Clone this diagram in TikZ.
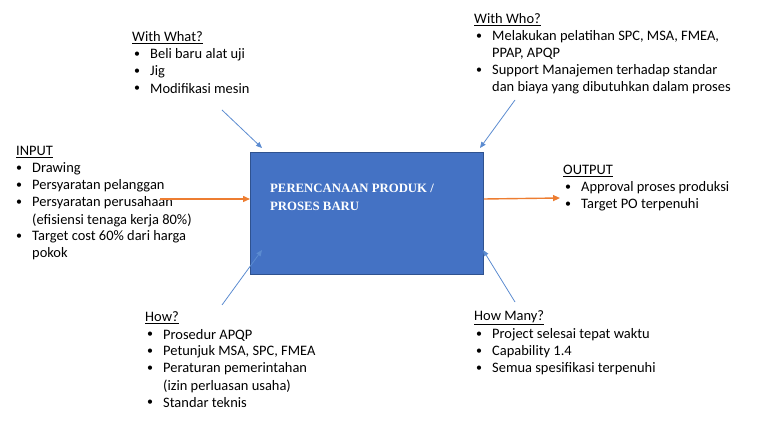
\documentclass[tikz,border=0pt]{standalone}
\usepackage{fontspec}
\setmainfont{Carlito}
\newfontfamily\titlefont{Liberation Serif}
\usetikzlibrary{arrows.meta}
\definecolor{boxblue}{HTML}{4472C4}
\definecolor{boxedge}{HTML}{2F528F}
\definecolor{arrblue}{HTML}{5B8BD0}
\definecolor{arrorange}{HTML}{ED7D31}
\tikzset{
  txt/.style={anchor=west,inner sep=0pt,font=\fontsize{14.5}{16}\selectfont},
  head/.style={txt},
  bl/.style={anchor=west,inner sep=0pt,font=\fontsize{12}{14}\selectfont},
  blu/.style={draw=arrblue,line width=0.8pt,-{Triangle[length=6pt,width=5pt]}},
  org/.style={draw=arrorange,line width=1.4pt,-{Triangle[length=7pt,width=6pt]}}
}
% bullet line: #1 x, #2 y, #3 text
\newcommand{\bitem}[3]{\node[bl] at (#1,#2) {\textbullet};\node[txt] at (#1+16,#2) {#3};}
\newcommand{\contline}[3]{\node[txt] at (#1+16,#2) {#3};}
\begin{document}
\begin{tikzpicture}[x=1bp,y=-1bp]
\useasboundingbox (0,0) rectangle (768,433);
\node[draw=boxedge,fill=boxblue,line width=0.8pt,minimum width=233bp,minimum height=122bp,inner sep=0pt,anchor=north west] (box) at (250,152) {};
\node[anchor=west,inner sep=0pt,text=white,font=\titlefont\bfseries\fontsize{12.8}{14}\selectfont] (t1) at (270,188) {PERENCANAAN PRODUK /};
\node[anchor=west,inner sep=0pt,text=white,font=\titlefont\bfseries\fontsize{12.8}{14}\selectfont] (t2) at (270,206) {PROSES BARU};

% With What?
\node[head] (ww) at (132,38) {\underline{With What?}};
\bitem{134}{55}{Beli baru alat uji}
\bitem{134}{72}{Jig}
\bitem{134}{89}{Modifikasi mesin}
% With Who?
\node[head] (wo) at (474,20) {\underline{With Who?}};
\bitem{476}{37}{Melakukan pelatihan SPC, MSA, FMEA,}
\contline{476}{54}{PPAP, APQP}
\bitem{476}{71}{Support Manajemen terhadap standar}
\contline{476}{88}{dan biaya yang dibutuhkan dalam proses}
% INPUT
\node[head] (in) at (16,152) {\underline{INPUT}};
\bitem{16}{169}{Drawing}
\bitem{16}{186}{Persyaratan pelanggan}
\bitem{16}{203}{Persyaratan perusahaan}
\contline{16}{220}{(efisiensi tenaga kerja 80\%)}
\bitem{16}{237}{Target cost 60\% dari harga}
\contline{16}{254}{pokok}
% OUTPUT
\node[head] (out) at (563,171) {\underline{OUTPUT}};
\bitem{565}{188}{Approval proses produksi}
\bitem{565}{205}{Target PO terpenuhi}
% How?
\node[head] (how) at (145,318) {\underline{How?}};
\bitem{147}{335}{Prosedur APQP}
\bitem{147}{352}{Petunjuk MSA, SPC, FMEA}
\bitem{147}{369}{Peraturan pemerintahan}
\contline{147}{386}{(izin perluasan usaha)}
\bitem{147}{403}{Standar teknis}
% How Many?
\node[head] (hm) at (474,318) {\underline{How Many?}};
\bitem{476}{335}{Project selesai tepat waktu}
\bitem{476}{352}{Capability 1.4}
\bitem{476}{369}{Semua spesifikasi terpenuhi}

% connectors
\coordinate (a1) at (222,110); \coordinate (b1) at (262,148);
\coordinate (a2) at (515,100); \coordinate (b2) at (480,148);
\coordinate (a3) at (222,305); \coordinate (b3) at (262,250);
\coordinate (a4) at (515,302); \coordinate (b4) at (483,250);
\coordinate (a5) at (160,199); \coordinate (b5) at (box.west |- 0,199);
\coordinate (a6) at (box.east |- 0,199); \coordinate (b6) at (560,198);
\draw[blu] (a1) -- (b1);
\draw[blu] (a2) -- (b2);
\draw[blu] (a3) -- (b3);
\draw[blu] (a4) -- (b4);
\draw[org] (a5) -- (b5);
\draw[org] (a6) -- (b6);
\end{tikzpicture}
\end{document}
